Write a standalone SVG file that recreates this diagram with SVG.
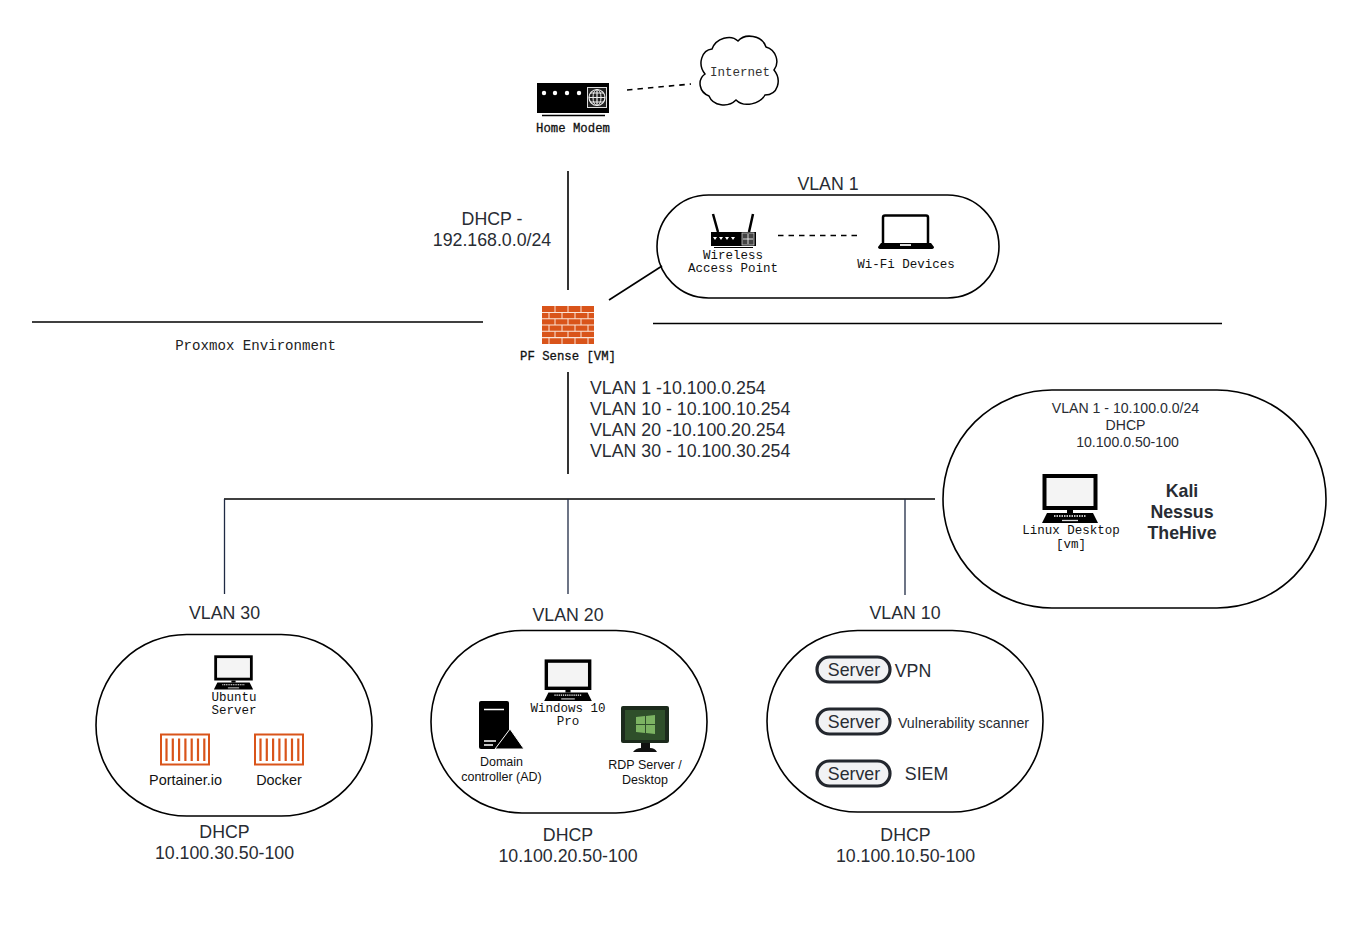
<svg xmlns="http://www.w3.org/2000/svg" xmlns:xlink="http://www.w3.org/1999/xlink" width="1358" height="952" viewBox="0 0 1358 952">
<style>
.s{font-family:"Liberation Sans",Arial,sans-serif;fill:#282c33;font-size:17.750px;text-anchor:middle}
.m{font-family:"Liberation Mono","Courier New",monospace;fill:#111;font-size:12.500px;text-anchor:middle}
.b{font-weight:bold}
.mb{stroke:#111;stroke-width:0.300}
.k{font-family:"Liberation Sans",Arial,sans-serif;fill:#111;font-size:13px;text-anchor:middle}
.pill{fill:#fff;stroke:#000;stroke-width:1.6}
.ln{stroke:#000;stroke-width:1.6;fill:none}
.v{stroke:#1f2a44;stroke-width:1.3;fill:none}
.dash{stroke:#000;stroke-width:1.6;fill:none;stroke-dasharray:5.500 5}
.srv{fill:#f1f2f4;stroke:#23272e;stroke-width:3.2}
.ctr{fill:none;stroke:#d9541a;stroke-width:2}
</style>
<defs>
<g id="laptop">
<rect x="-25.500" y="-44" width="51" height="32" fill="#f4f4f4" stroke="#000" stroke-width="4"/>
<rect x="-3" y="-10" width="6" height="3" fill="#000"/>
<path d="M-23,-7H23L28,3H-28Z" fill="#000"/>
<path d="M-16,-4H16" stroke="#fff" stroke-width="1.500" stroke-dasharray="1.500 1"/>
<path d="M-8,0.500H8" stroke="#ddd" stroke-width="1.300"/>
</g>
<g id="container">
<rect x="0.500" y="0.500" width="48" height="30" class="ctr"/>
<path d="M6,4.500V27M12.300,4.500V27M18.600,4.500V27M24.900,4.500V27M31.200,4.500V27M37.500,4.500V27M43.800,4.500V27" stroke="#d9541a" stroke-width="2.200" fill="none"/>
</g>
</defs>

<g id="modem">
<rect x="537" y="83" width="72" height="30" fill="#000"/>
<g fill="#fff"><circle cx="544" cy="93" r="2.200"/><circle cx="555" cy="93" r="2.200"/><circle cx="567" cy="93" r="2.200"/><circle cx="579" cy="93" r="2.200"/></g>
<rect x="587.500" y="87.500" width="19" height="20" fill="#222" stroke="#ddd" stroke-width="1"/>
<circle cx="597" cy="97.500" r="8" fill="none" stroke="#eee" stroke-width="1.200"/>
<path d="M589,97.500H605M597,89.500V105.500M590.500,93H603.500M590.500,102H603.500" stroke="#eee" stroke-width="1.200" fill="none"/>
<ellipse cx="597" cy="97.500" rx="4" ry="8" fill="none" stroke="#eee" stroke-width="1"/>
<path d="M542,115.500H605" stroke="#000" stroke-width="1.500"/>
<text class="m mb" x="573" y="132" style="font-size:12.300px">Home Modem</text>
</g>

<g id="internet">
<path d="M712,49C716,38 731,34 738,41C745,33 762,35 766,47C776,50 780,62 774,70C782,80 778,95 765,95C760,104 744,108 736,100C728,108 713,106 709,96C699,92 697,80 705,74C697,64 702,50 712,49Z" fill="#fff" stroke="#000" stroke-width="1.500"/>
<text class="m" x="740" y="75.500" style="fill:#333">Internet</text>
</g>

<g id="dhcp-wan">
<text class="s" x="492" y="224.500">DHCP -</text>
<text class="s" x="492" y="245.500">192.168.0.0/24</text>
</g>

<g id="vlan1-wifi">
<text class="s" x="828" y="190">VLAN 1</text>
<rect class="pill" x="657" y="195" width="342" height="103" rx="51.500"/>
<g id="wap">
<path d="M713,214L718,232M753,214L749,232" stroke="#000" stroke-width="2.500" fill="none"/>
<rect x="711" y="232" width="45" height="14" fill="#000"/>
<g fill="#fff"><path d="M713,237h4l-2,3zM719,237h4l-2,3zM725,237h4l-2,3zM731,237h4l-2,3z"/></g>
<rect x="742" y="233" width="12" height="12" fill="#444" stroke="#ccc" stroke-width="0.800"/>
<path d="M748,234V244M743,239H753" stroke="#fff" stroke-width="0.800"/>
<path d="M714,247.500H753" stroke="#000" stroke-width="1"/>
<text class="m" x="733" y="259">Wireless</text>
<text class="m" x="733" y="272">Access Point</text>
</g>
<g id="wifi-devices">
<rect x="883" y="215.500" width="45" height="30" rx="2" fill="#fff" stroke="#000" stroke-width="2.500"/>
<path d="M881,243H931L934,247Q934,249 931,249H881Q878,249 878,247Z" fill="#000"/>
<rect x="900" y="244" width="11" height="2" fill="#ddd"/>
<text class="m" x="906" y="268">Wi-Fi Devices</text>
</g>
</g>

<g id="pfsense">
<rect x="542" y="306" width="52" height="38" fill="#d9541a"/>
<path d="M542,312.500H594M542,318.800H594M542,325H594M542,331.300H594M542,337.600H594" stroke="#fbe3d6" stroke-width="1.100"/>
<path d="M555,306V312.500M568,306V312.500M581,306V312.500M549,312.500V318.800M562,312.500V318.800M575,312.500V318.800M588,312.500V318.800M555,318.800V325M568,318.800V325M581,318.800V325M549,325V331.300M562,325V331.300M575,325V331.300M588,325V331.300M555,331.300V337.600M568,331.300V337.600M581,331.300V337.600M549,337.600V344M562,337.600V344M575,337.600V344M588,337.600V344" stroke="#fbe3d6" stroke-width="1"/>
<text class="m mb" x="568" y="359.500" style="font-size:12.300px">PF Sense [VM]</text>
</g>

<text id="proxmox" class="m" x="255.500" y="349.500" style="font-size:14.100px;fill:#222">Proxmox Environment</text>

<g id="gateways">
<text class="s" x="590" y="393.500" style="text-anchor:start">VLAN 1 -10.100.0.254</text>
<text class="s" x="590" y="414.500" style="text-anchor:start">VLAN 10 - 10.100.10.254</text>
<text class="s" x="590" y="435.500" style="text-anchor:start">VLAN 20 -10.100.20.254</text>
<text class="s" x="590" y="457" style="text-anchor:start">VLAN 30 - 10.100.30.254</text>
</g>

<g id="vlan1-lab">
<rect class="pill" x="943" y="390" width="383" height="218" rx="109"/>
<text class="s" x="1125.500" y="413" style="font-size:14.100px">VLAN 1 - 10.100.0.0/24</text>
<text class="s" x="1125.500" y="430" style="font-size:14.100px">DHCP</text>
<text class="s" x="1127.500" y="447" style="font-size:14.100px">10.100.0.50-100</text>
<use xlink:href="#laptop" href="#laptop" transform="translate(1070,520)"/>
<text class="m" x="1071" y="534">Linux Desktop</text>
<text class="m" x="1071" y="547.500">[vm]</text>
<text class="s b" x="1182" y="497">Kali</text>
<text class="s b" x="1182" y="518">Nessus</text>
<text class="s b" x="1182" y="539">TheHive</text>
</g>

<g id="vlan30">
<text class="s" x="224.500" y="619">VLAN 30</text>
<rect class="pill" x="96" y="634.500" width="276" height="181.500" rx="90.700"/>
<use xlink:href="#laptop" href="#laptop" transform="translate(233.500,687.500) scale(0.700)"/>
<text class="m" x="234" y="701">Ubuntu</text>
<text class="m" x="234" y="714">Server</text>
<use xlink:href="#container" href="#container" transform="translate(160.500,734)"/>
<use xlink:href="#container" href="#container" transform="translate(254.500,734)"/>
<text class="k" x="185.500" y="785" style="font-size:14.400px">Portainer.io</text>
<text class="k" x="279" y="785" style="font-size:14.400px">Docker</text>
<text class="s" x="224.500" y="838">DHCP</text>
<text class="s" x="224.500" y="859">10.100.30.50-100</text>
</g>

<g id="vlan20">
<text class="s" x="568" y="621">VLAN 20</text>
<rect class="pill" x="431" y="630.500" width="276" height="182.500" rx="91"/>
<use xlink:href="#laptop" href="#laptop" transform="translate(568,698.500) scale(0.850)"/>
<text class="m" x="568" y="712">Windows 10</text>
<text class="m" x="568" y="725">Pro</text>
<g id="dc">
<rect x="479" y="701" width="30" height="48" rx="2" fill="#000"/>
<path d="M484,709.500H504M484,741H496M484,745H493" stroke="#fff" stroke-width="1.500"/>
<path d="M495,749L510,729L524,749Z" fill="#000" stroke="#fff" stroke-width="1"/>
<text class="k" x="501.500" y="766" style="font-size:12.500px">Domain</text>
<text class="k" x="501.500" y="781" style="font-size:12.500px">controller (AD)</text>
</g>
<g id="rdp">
<rect x="621" y="706" width="48" height="37" rx="2" fill="#1c2a1c"/>
<rect x="625" y="710" width="40" height="30" fill="#2f4f2a"/>
<path d="M636,717L645,716V724H636ZM646,716L655,715V724H646ZM636,725H645V733L636,732ZM646,725H655V734L646,733Z" fill="#7cb362"/>
<rect x="641" y="743" width="9" height="6" fill="#111"/>
<path d="M633,752Q636,748 641,748H650Q655,748 657,752Z" fill="#111"/>
<text class="k" x="645" y="769" style="font-size:12.500px">RDP Server /</text>
<text class="k" x="645" y="784" style="font-size:12.500px">Desktop</text>
</g>
<text class="s" x="568" y="841">DHCP</text>
<text class="s" x="568" y="862">10.100.20.50-100</text>
</g>

<g id="vlan10">
<text class="s" x="905" y="619">VLAN 10</text>
<rect class="pill" x="767" y="630.500" width="276" height="181.500" rx="90.700"/>
<rect class="srv" x="817" y="657" width="73" height="25" rx="12.500"/>
<text class="s" x="854" y="676">Server</text>
<text class="s" x="913" y="677">VPN</text>
<rect class="srv" x="817" y="709" width="73" height="25" rx="12.500"/>
<text class="s" x="854" y="728">Server</text>
<text class="s" x="963.500" y="728" style="font-size:14.200px">Vulnerability scanner</text>
<rect class="srv" x="817" y="761" width="73" height="25" rx="12.500"/>
<text class="s" x="854" y="780">Server</text>
<text class="s" x="926.500" y="780">SIEM</text>
<text class="s" x="905.500" y="841">DHCP</text>
<text class="s" x="905.500" y="862">10.100.10.50-100</text>
</g>

<g id="connectors">
<path class="dash" d="M627,90L691,84"/>
<path class="ln" d="M568,171V290"/>
<path class="ln" d="M609,300L662,266"/>
<path class="dash" d="M778,235.500H858"/>
<path class="ln" d="M32,322H483"/>
<path class="ln" d="M653,323.500H1222"/>
<path class="ln" d="M568,372V474"/>
<path class="ln" d="M224,499H935"/>
<path class="v" d="M224.500,499V594"/>
<path class="v" d="M568,499V594"/>
<path class="v" d="M905,499V595"/>
</g>
</svg>
